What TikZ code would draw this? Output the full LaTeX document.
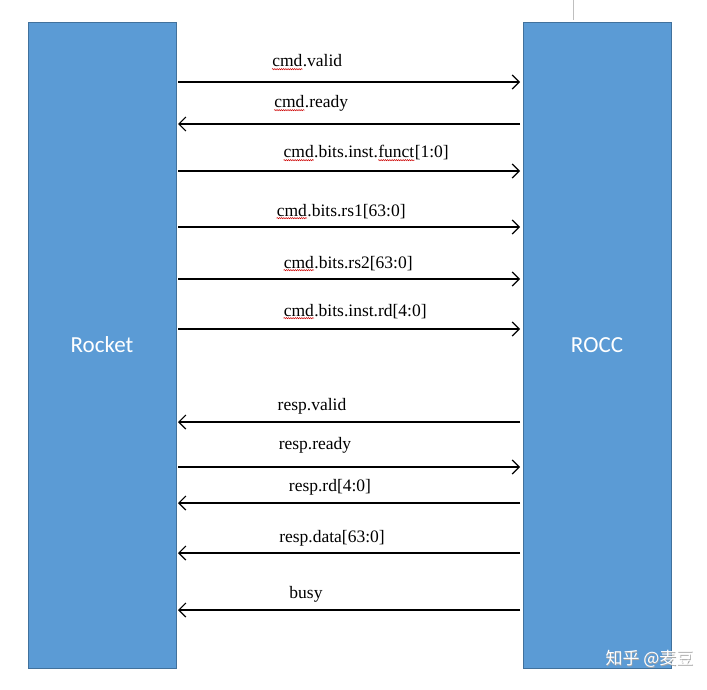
\documentclass[tikz,border=0pt]{standalone}
\usepackage{fontspec}
\setmainfont{Liberation Serif}
\newfontfamily\boxfont{Carlito}
\newfontfamily\cjk{Noto Sans CJK SC}
\usetikzlibrary{decorations.pathmorphing,arrows.meta}
\newcommand\sqw[1]{\tikz[baseline]{\node[inner sep=0,anchor=base](w){#1};\draw[red!80!black,line width=0.5pt,decorate,decoration={snake,amplitude=0.6pt,segment length=2.2pt}]([yshift=-1.8pt]w.south west)--([yshift=-1.8pt]w.south east);}}
\begin{document}
\begin{tikzpicture}[x=1pt,y=-1pt,
  blk/.style={draw={rgb,255:red,65;green,113;blue,156},fill={rgb,255:red,91;green,155;blue,213},line width=0.8pt},
  bl/.style={text=white,font=\boxfont\fontsize{23}{26}\selectfont},
  sig/.style={line width=1.3pt,-{Straight Barb[length=7pt,width=14pt,line width=1.2pt]}},
  lb/.style={font=\fontsize{17.5}{19}\selectfont,inner sep=0pt,anchor=base}]
\useasboundingbox (0,0) rectangle (707,690);
\draw[gray!50] (573,0) -- (573,20);
\draw[blk] (28,22) rectangle (176,668);
\draw[blk] (523,22) rectangle (671,668);
\node[bl] (rk) at (102,345) {Rocket};
\node[bl] (rc) at (597,345) {ROCC};
\foreach \y in {82,171,227,279,329,467}{
  \coordinate (L\y) at (178,\y); \coordinate (R\y) at (520,\y);
  \draw[sig] (L\y) -- (R\y);
}
\foreach \y in {124,422,503,553,610}{
  \coordinate (L\y) at (178,\y); \coordinate (R\y) at (520,\y);
  \draw[sig] (R\y) -- (L\y);
}
\node[lb] (t1) at (307,67) {\sqw{cmd}.valid};
\node[lb] (t2) at (311,108) {\sqw{cmd}.ready};
\node[lb] (t3) at (366,158) {\sqw{cmd}.bits.inst.\sqw{funct}[1:0]};
\node[lb] (t4) at (341,216) {\sqw{cmd}.bits.rs1[63:0]};
\node[lb] (t5) at (348,268) {\sqw{cmd}.bits.rs2[63:0]};
\node[lb] (t6) at (355,316) {\sqw{cmd}.bits.inst.rd[4:0]};
\node[lb] (t7) at (312,410) {resp.valid};
\node[lb] (t8) at (315,449) {resp.ready};
\node[lb] (t9) at (330,491) {resp.rd[4:0]};
\node[lb] (t10) at (332,542) {resp.data[63:0]};
\node[lb] (t11) at (306,598) {busy};
\node[text=gray!70,font=\cjk\fontsize{17}{19}\selectfont,anchor=east] at (697.6,659.6) {知乎 @麦豆};
\node[text=white,font=\cjk\fontsize{17}{19}\selectfont,anchor=east] (wm) at (697,659) {知乎 @麦豆};
\end{tikzpicture}
\end{document}
